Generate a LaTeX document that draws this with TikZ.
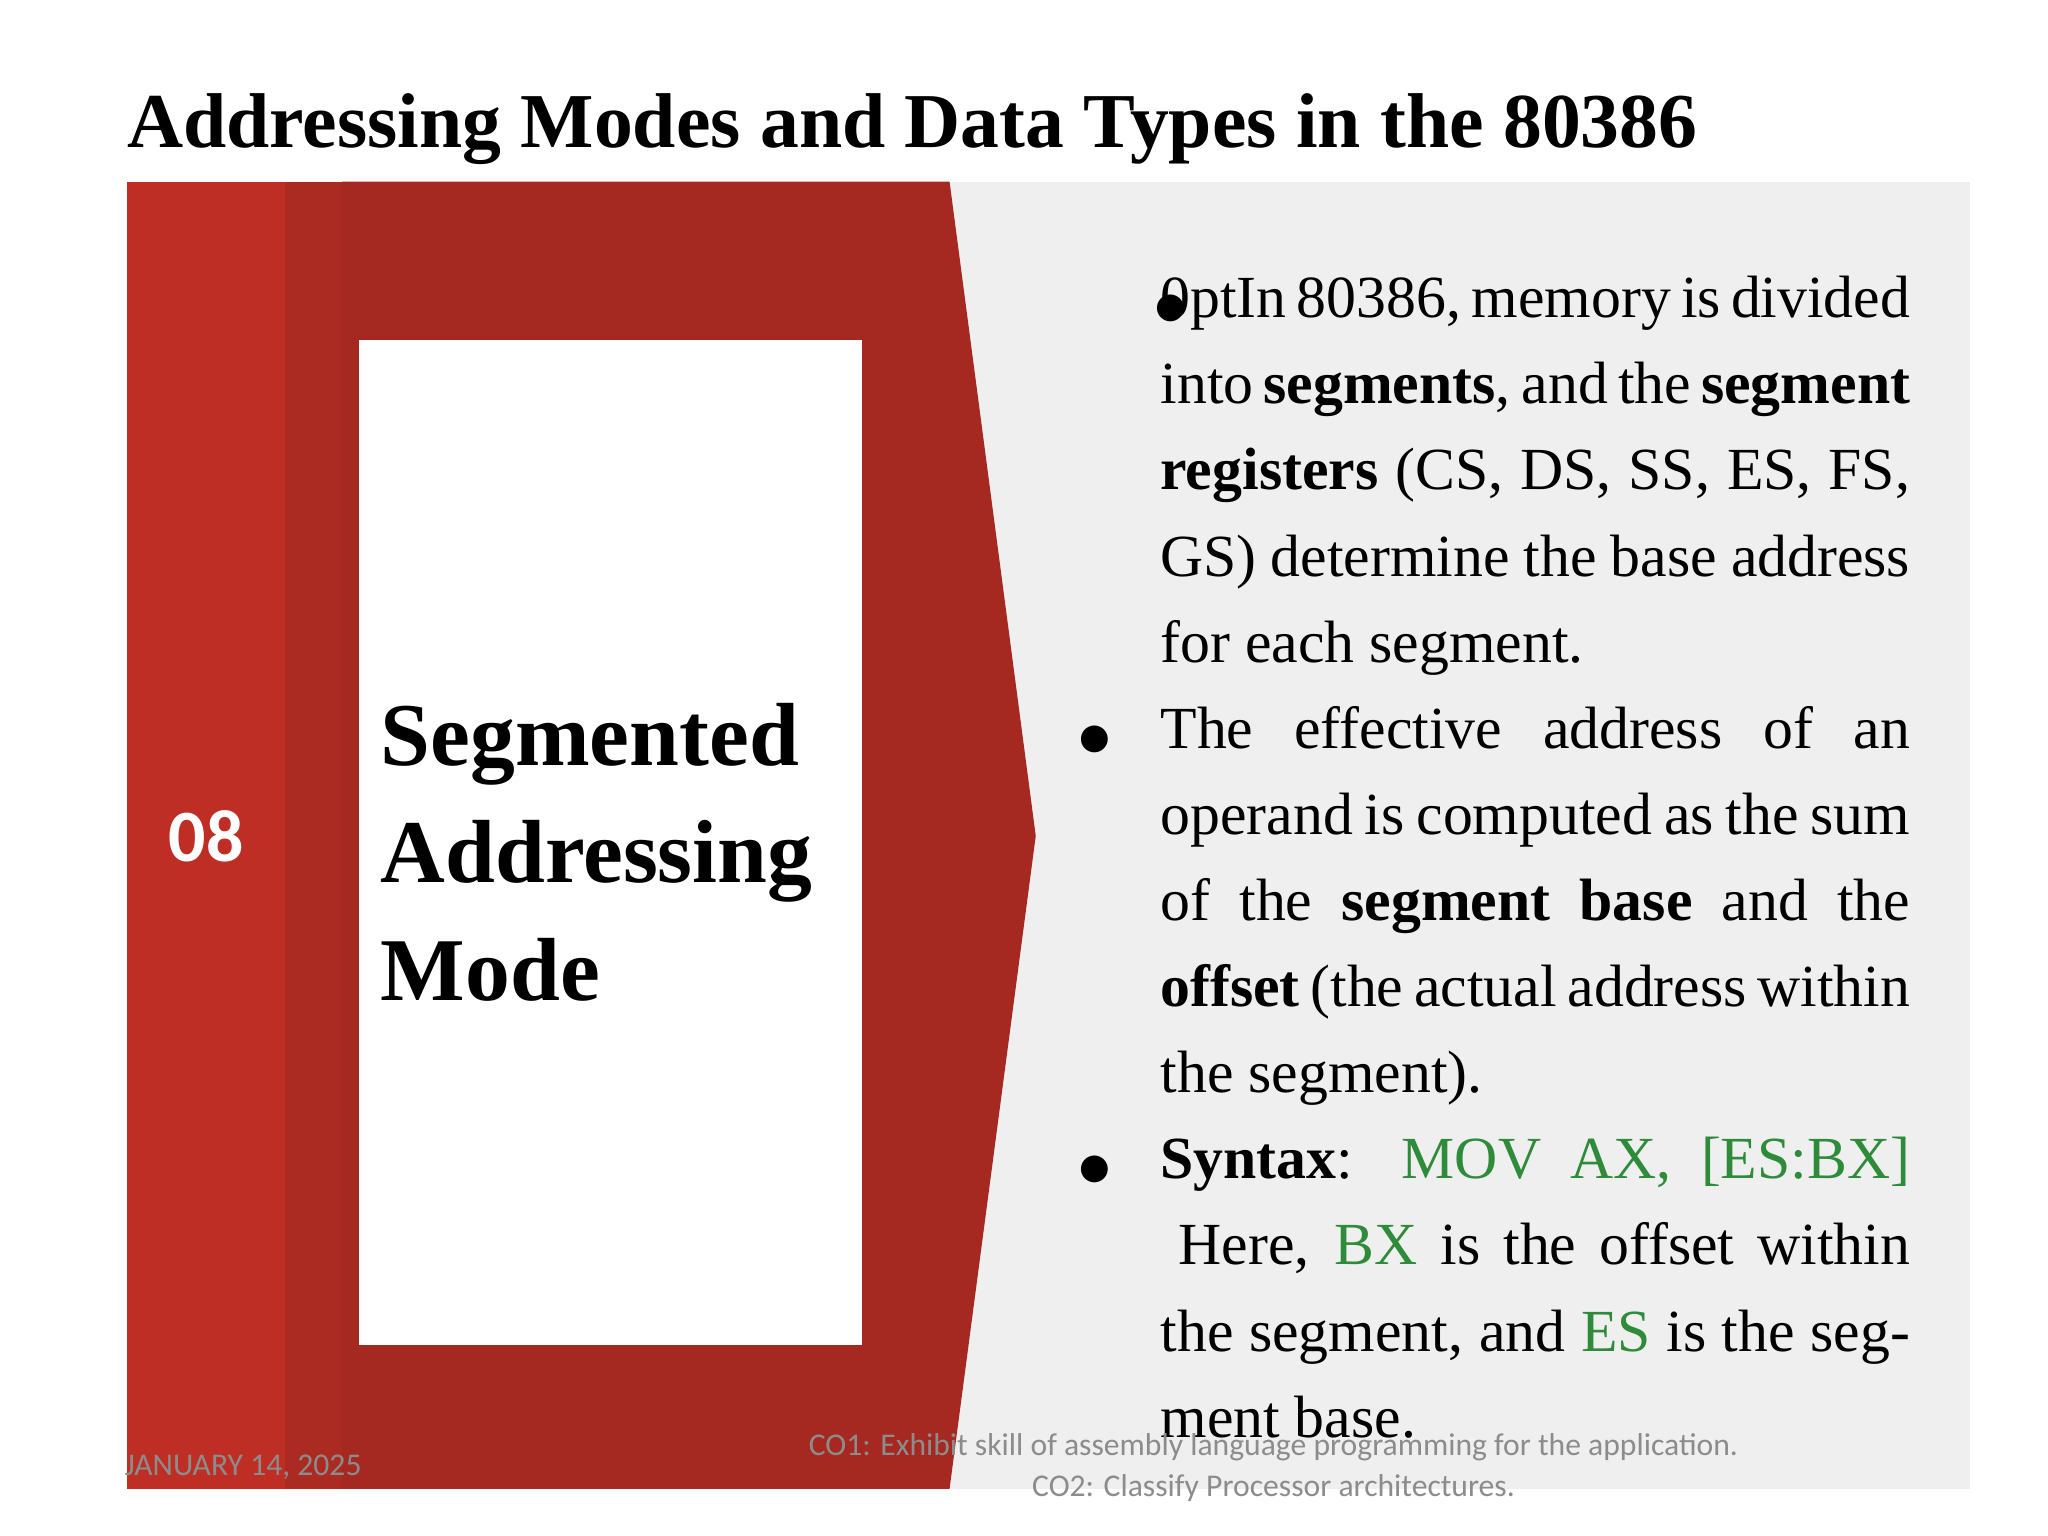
\documentclass[tikz,border=0pt]{standalone}
\usepackage{fontspec}
\setmainfont{Liberation Serif}
\newfontfamily\carl{Carlito}
\newfontfamily\djv{DejaVu Sans}
\definecolor{redA}{HTML}{BE2E24}
\definecolor{redB}{HTML}{AB2A21}
\definecolor{redC}{HTML}{A52920}
\definecolor{greyBG}{HTML}{EFEFEF}
\definecolor{codeG}{HTML}{2E8B3A}
\definecolor{footG}{HTML}{8C8C8C}
\newcommand\cg[1]{\textcolor{codeG}{#1}}
\newcommand\bul{\noindent\llap{\makebox[62\unitlength][l]{\djv\fontsize{10pt}{10pt}\selectfont ●}}}
\setlength{\unitlength}{0.3716pt}
\begin{document}
\begin{tikzpicture}[x=0.01306cm,y=-0.01306cm]
\useasboundingbox (0,0) rectangle (1568,1176);
\fill[white] (0,0) rectangle (1568,1176);
\fill[greyBG] (727,139) rectangle (1508,1140);
\fill[redA] (97,139) rectangle (222,1140);
\fill[redB] (218,139) rectangle (264,1140);
\fill[redC] (262,139) -- (727,139) -- (793,640) -- (727,1140) -- (262,1140) -- cycle;
\fill[white] (275,260) rectangle (660,1030);
\node[anchor=base west,font=\bfseries\fontsize{22.1pt}{27pt}\selectfont,inner sep=0] (title) at (97,113) {Addressing Modes and Data Types in the 80386};
\node[text=white,font=\carl\bfseries\fontsize{21pt}{25pt}\selectfont] (num) at (158,640) {08};
\node[anchor=north west,align=left,inner sep=0,font=\bfseries\fontsize{25.5pt}{33.4pt}\selectfont] (seg) at (291,538) {Segmented\\Addressing\\Mode};
\node[anchor=north west,inner sep=0,text width=574\unitlength,align=justify,font=\fontsize{17pt}{24.5pt}\selectfont\hyphenpenalty=10000\exhyphenpenalty=10000] (body) at (888,211) {%
\bul In 80386, memory is divided into \textbf{segments}, and the \textbf{segment registers} (CS, DS, SS, ES, FS, GS) determine the base address for each segment.\par
\bul The effective address of an operand is computed as the sum of the \textbf{segment base} and the \textbf{offset} (the actual address within the segment).\par
\bul \textbf{Syntax}: \cg{MOV AX, [ES:BX]}\linebreak
\hspace*{0.3em}Here, \cg{BX} is the offset within the segment, and \cg{ES} is the segment base.\par};
\node[anchor=base west,inner sep=0,text=footG,font=\carl\fontsize{9pt}{11pt}\selectfont] (date) at (95,1130) {JANUARY 14, 2025};
\node[anchor=base,inner sep=0,text=footG,font=\carl\fontsize{9pt}{11pt}\selectfont] (co1) at (975,1114) {CO1: Exhibit skill of assembly language programming for the application.};
\node[anchor=base,inner sep=0,text=footG,font=\carl\fontsize{9pt}{11pt}\selectfont] (co2) at (975,1146) {CO2: Classify Processor architectures.};
\end{tikzpicture}
\end{document}
